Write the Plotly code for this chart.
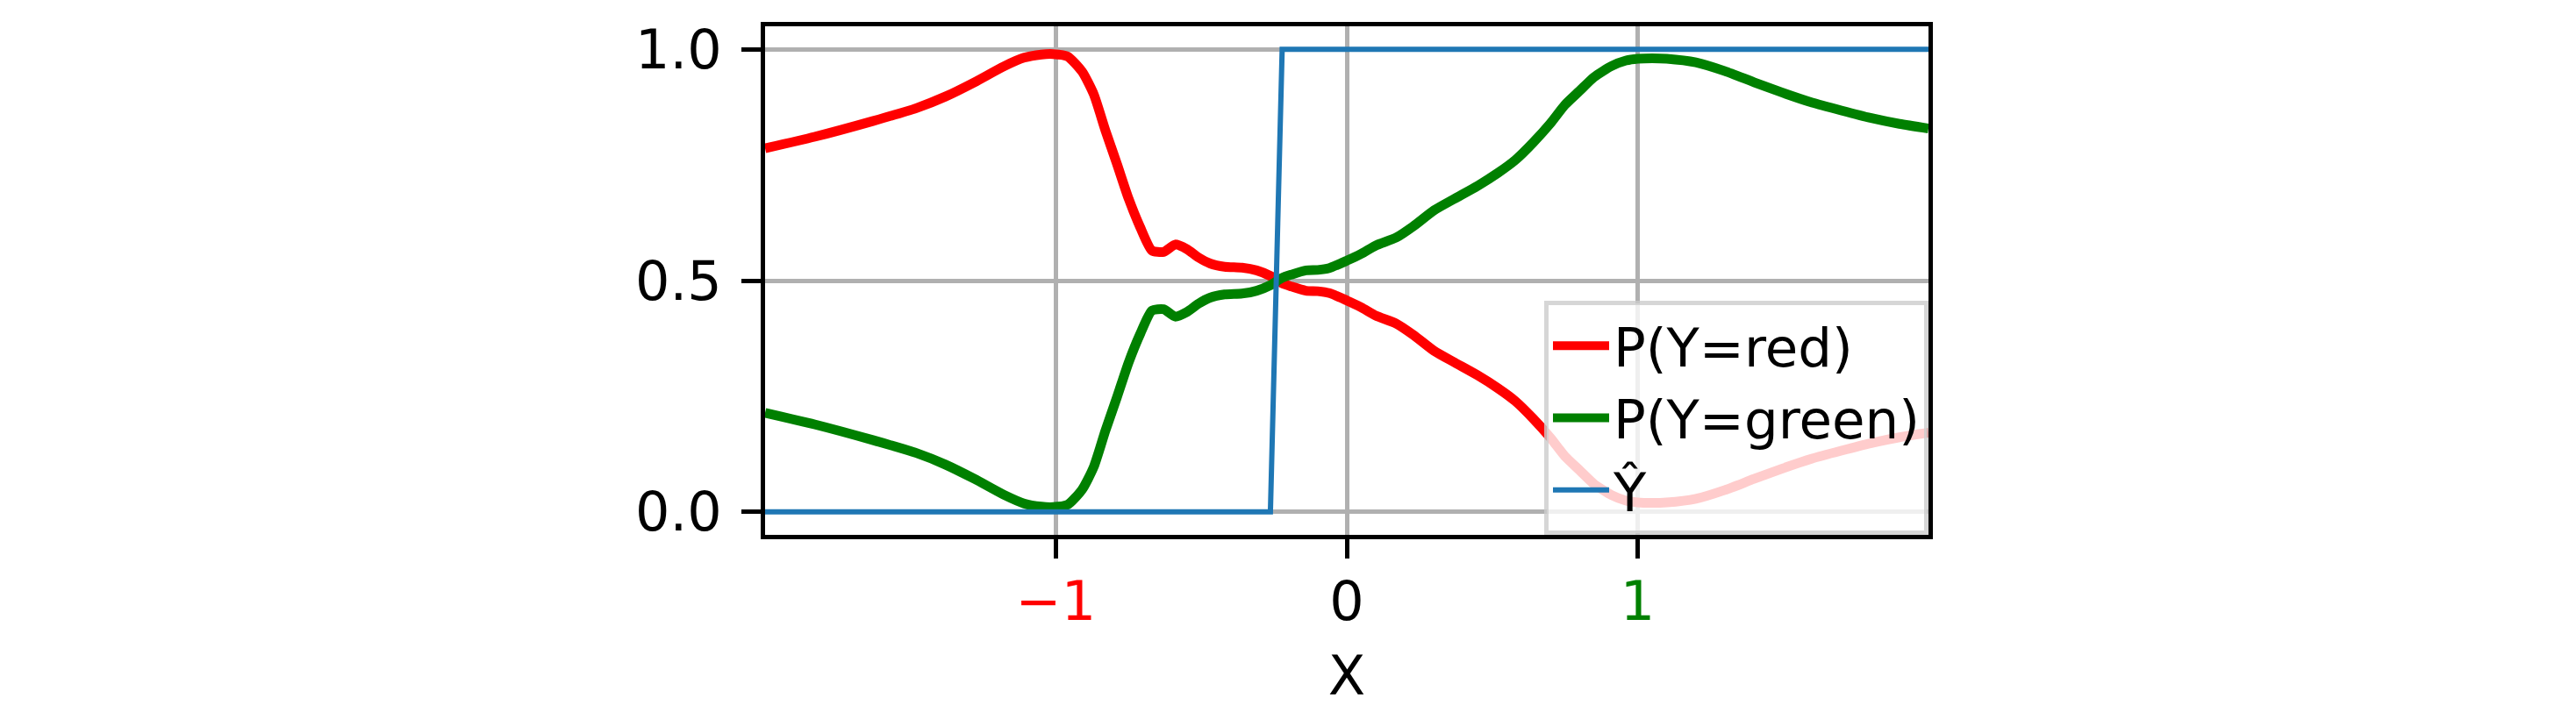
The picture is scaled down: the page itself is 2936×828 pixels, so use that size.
import plotly.graph_objects as go

# ---- data ----
x_vals = [-2.00, -1.83, -1.63, -1.48, -1.38, -1.28, -1.18, -1.11, -1.05, -1.01,
          -0.96, -0.91, -0.87, -0.83, -0.79, -0.75, -0.71, -0.67, -0.63, -0.59,
          -0.55, -0.51, -0.47, -0.42, -0.36, -0.31, -0.2626, -0.2222, -0.19, -0.14,
          -0.10, -0.06, 0.00, 0.05, 0.10, 0.17, 0.23, 0.30, 0.37, 0.45,
          0.52, 0.58, 0.64, 0.70, 0.75, 0.80, 0.85, 0.91, 0.96, 1.00,
          1.05, 1.10, 1.20, 1.30, 1.40, 1.50, 1.60, 1.70, 1.80, 1.90, 2.00]

p_red = [0.786, 0.811, 0.845, 0.873, 0.898, 0.929, 0.963, 0.982, 0.989, 0.990,
         0.985, 0.952, 0.903, 0.825, 0.752, 0.677, 0.615, 0.565, 0.562, 0.578,
         0.568, 0.550, 0.537, 0.530, 0.528, 0.522, 0.510, 0.494, 0.487, 0.478,
         0.477, 0.473, 0.457, 0.442, 0.424, 0.407, 0.382, 0.348, 0.323, 0.295,
         0.267, 0.239, 0.202, 0.160, 0.120, 0.090, 0.060, 0.036, 0.024, 0.020,
         0.019, 0.020, 0.028, 0.047, 0.071, 0.094, 0.115, 0.132, 0.148, 0.161, 0.171]

p_green = [0.214, 0.189, 0.155, 0.127, 0.102, 0.071, 0.037, 0.018, 0.011, 0.010,
           0.015, 0.048, 0.097, 0.175, 0.248, 0.323, 0.385, 0.435, 0.438, 0.422,
           0.432, 0.450, 0.463, 0.470, 0.472, 0.478, 0.490, 0.506, 0.513, 0.522,
           0.523, 0.527, 0.543, 0.558, 0.576, 0.593, 0.618, 0.652, 0.677, 0.705,
           0.733, 0.761, 0.798, 0.840, 0.880, 0.910, 0.940, 0.964, 0.976, 0.980,
           0.981, 0.980, 0.972, 0.953, 0.929, 0.906, 0.885, 0.868, 0.852, 0.839, 0.829]

yhat_x = [-2.0, -0.2626, -0.2222, 2.0]
yhat_y = [0, 0, 1, 1]

series_names = ["P(Y=red)", "P(Y=green)", "Ŷ"]

x_tickvals = [-1, 0, 1]
x_ticklabels = ["−1", "0", "1"]
x_tickcolors = ["red", "black", "green"]
y_tickvals = [0.0, 0.5, 1.0]
y_ticklabels = ["0.0", "0.5", "1.0"]

FONT = "DejaVu Sans"
FS = 62

fig = go.Figure()
fig.add_trace(go.Scatter(x=x_vals, y=p_red, mode="lines", name=series_names[0],
                         line=dict(color="#ff0000", width=11, shape="spline", smoothing=0.6)))
fig.add_trace(go.Scatter(x=x_vals, y=p_green, mode="lines", name=series_names[1],
                         line=dict(color="#008000", width=11, shape="spline", smoothing=0.6)))
fig.add_trace(go.Scatter(x=yhat_x, y=yhat_y, mode="lines", name=series_names[2],
                         line=dict(color="#1f77b4", width=6)))

# page body has an 8px margin, so the figure is 8px smaller and shifted
fig.update_layout(
    width=2928, height=820,
    margin=dict(l=864, r=738, t=13, b=218, pad=0),
    plot_bgcolor="white", paper_bgcolor="white",
    font=dict(family=FONT, size=FS, color="black"),
    showlegend=True,
    legend=dict(x=1, xanchor="right", y=0, yanchor="bottom",
                bgcolor="rgba(255,255,255,0.8)",
                bordercolor="rgba(204,204,204,0.8)", borderwidth=5,
                font=dict(family=FONT, size=61, color="black"),
                itemwidth=64, tracegroupgap=0),
)

fig.update_xaxes(
    range=[-2, 2], tickmode="array", tickvals=x_tickvals,
    ticktext=[f'<span style="color:{c}">{t}</span>' for t, c in zip(x_ticklabels, x_tickcolors)],
    ticks="outside", ticklen=22, tickwidth=5, tickcolor="black",
    ticklabelstandoff=-4,
    showline=True, linecolor="black", linewidth=5, mirror=True,
    showgrid=True, gridcolor="#b0b0b0", gridwidth=5, zeroline=False,
    title=dict(text="X", standoff=29, font=dict(family=FONT, size=FS)),
)
fig.update_yaxes(
    range=[-0.05, 1.05], tickmode="array", tickvals=y_tickvals, ticktext=y_ticklabels,
    ticks="outside", ticklen=22, tickwidth=5, tickcolor="black",
    ticklabelstandoff=10,
    showline=True, linecolor="black", linewidth=5, mirror=True,
    showgrid=True, gridcolor="#b0b0b0", gridwidth=5, zeroline=False,
)

fig.write_html("out.html")
